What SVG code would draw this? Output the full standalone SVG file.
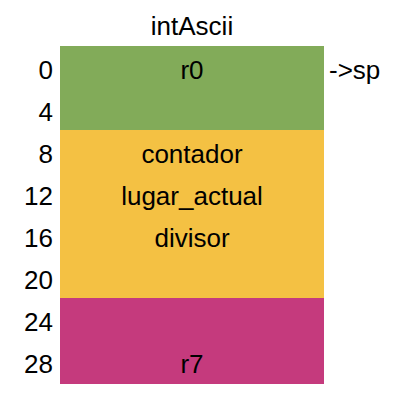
<svg xmlns="http://www.w3.org/2000/svg" width="418" height="418" viewBox="0 0 418 418">
<style>
text{font-family:"Liberation Sans",Arial,sans-serif;font-size:26px;fill:#000}
.c{text-anchor:middle}
.r{text-anchor:end}
</style>
<rect width="418" height="418" fill="#fff"/>
<text class="c" x="192" y="35">intAscii</text>
<g id="frame-r0">
<rect x="60" y="46" width="264" height="84" fill="#82ab59"/>
<text class="c" x="192" y="79">r0</text>
</g>
<g id="frame-locals">
<rect x="60" y="130" width="264" height="168" fill="#f4c143"/>
<text class="c" x="192" y="163">contador</text>
<text class="c" x="192" y="205">lugar_actual</text>
<text class="c" x="192" y="247">divisor</text>
</g>
<g id="frame-r7">
<rect x="60" y="298" width="264" height="86" fill="#c53a7d"/>
<text class="c" x="192" y="373">r7</text>
</g>
<g id="offsets">
<text class="r" x="53" y="79">0</text>
<text class="r" x="53" y="121">4</text>
<text class="r" x="53" y="163">8</text>
<text class="r" x="53" y="205">12</text>
<text class="r" x="53" y="247">16</text>
<text class="r" x="53" y="289">20</text>
<text class="r" x="53" y="331">24</text>
<text class="r" x="53" y="373">28</text>
</g>
<text x="329" y="79">-&gt;sp</text>
<g id="connectors"></g>
</svg>
